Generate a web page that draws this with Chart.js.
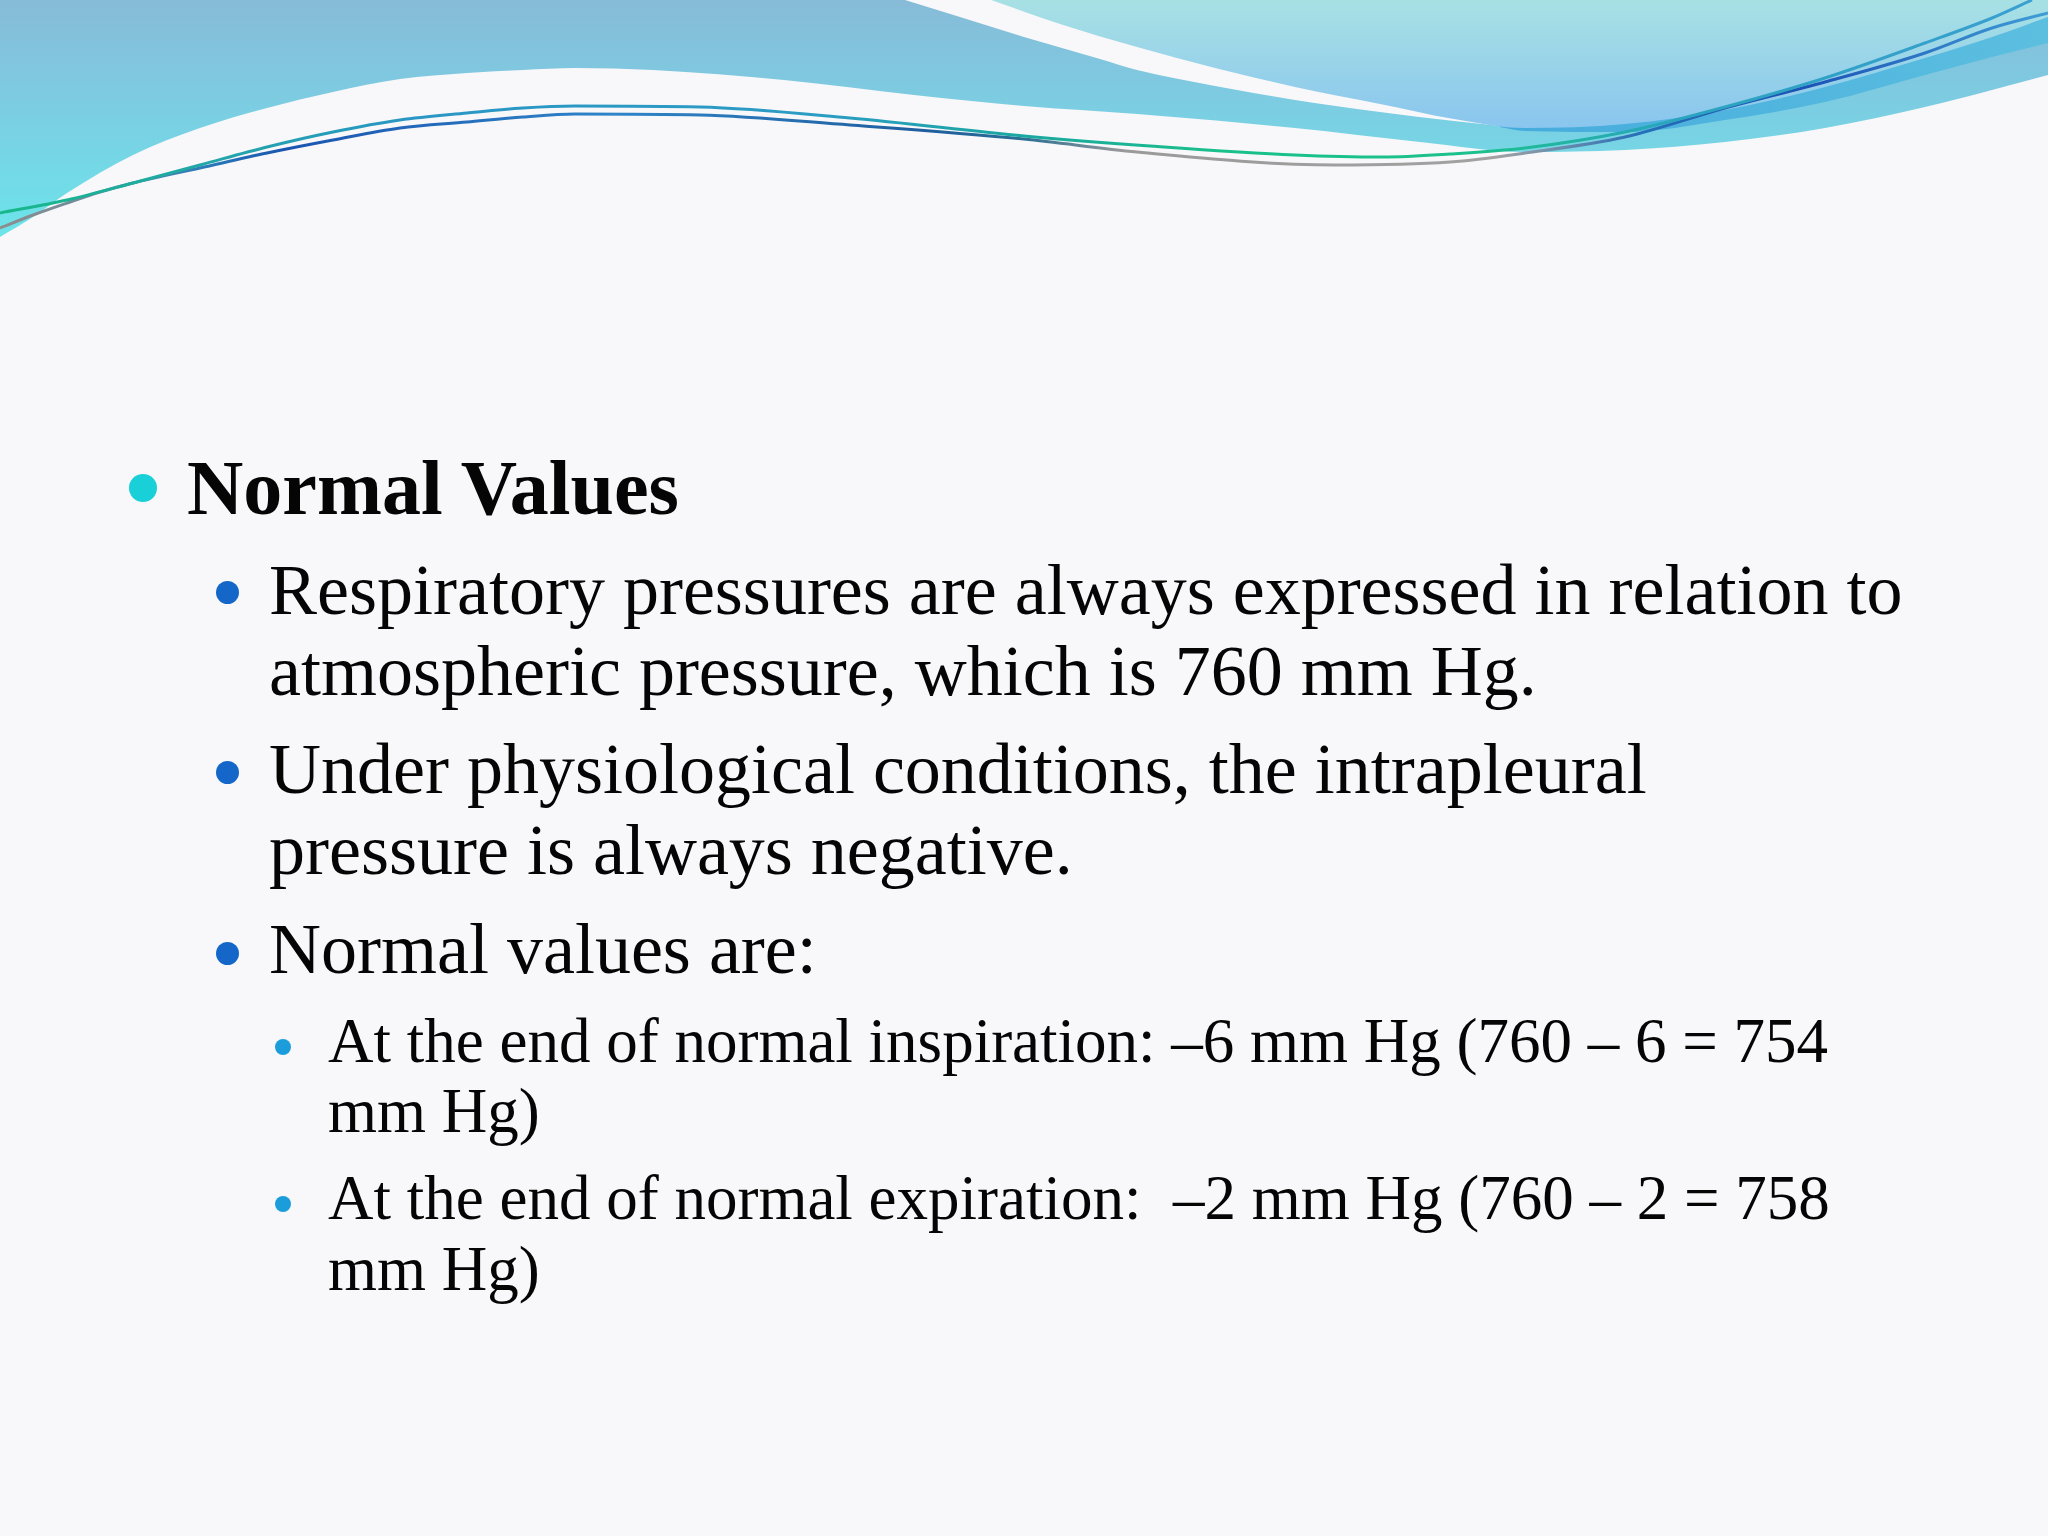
<!DOCTYPE html>
<html>
<head>
<meta charset="utf-8">
<title>Normal Values</title>
<script src="https://cdn.jsdelivr.net/npm/chart.js@4.4.1/dist/chart.umd.min.js"></script>
<style>
  html, body { margin: 0; padding: 0; }
  body {
    width: 2048px; height: 1536px; overflow: hidden; position: relative;
    background: #f8f8fa;
    font-family: "Liberation Serif", "Times New Roman", serif;
    color: #050505;
  }
  #slide { position: absolute; left: 0; top: 0; }
  .line { position: absolute; white-space: pre; line-height: 1; }
  .l1 { font-size: 78px; font-weight: bold; }
  .l2 { font-size: 72px; }
  .l3 { font-size: 63px; }
  .dot { position: absolute; border-radius: 50%; }
</style>
</head>
<body>
<canvas id="slide" width="2048" height="1536"></canvas>
<div id="text"></div>
<script>
// header wave edges, in slide pixels (y counted from the top)
const bandLowerX = [0, 33, 67, 133, 200, 267, 333, 400, 467, 523, 575, 653, 784, 914, 1024, 1137, 1295, 1420, 1525, 1625, 1725, 1825, 1925, 1992, 2048];
const bandLowerY = [237, 217, 193, 155, 128, 108, 92, 79, 73, 70, 68, 70, 80, 95, 106, 114, 128, 142, 152, 150, 142, 128, 107, 90, 75];

const gapX = [905, 960, 1024, 1100, 1137, 1215, 1295, 1380, 1454, 1510];
const gapY = [0, 17, 37, 59, 70, 86, 100, 112, 121, 127];

const ribbonX = [1500, 1525, 1625, 1725, 1825, 1925, 1992, 2048];
const ribbonY = [127, 131, 132, 120, 102, 75, 57, 43];

const crestX = [991, 1060, 1137, 1215, 1295, 1380, 1454, 1525, 1625, 1725, 1825, 1925, 1992, 2048];
const crestY = [0, 24, 47, 68, 87, 104, 119, 128, 124, 110, 87, 58, 37, 17];

const tealLineX = [0, 67, 133, 200, 267, 333, 400, 467, 523, 575, 700, 850, 1024, 1150, 1295, 1383, 1450, 1525, 1625, 1725, 1825, 1925, 1992, 2032];
const tealLineY = [213, 200, 183, 165, 147, 132, 120, 113, 108, 106, 107, 118, 136, 146, 155, 157, 154, 148, 132, 107, 78, 43, 18, 0];

const blueLineX = [0, 33, 67, 100, 133, 200, 267, 333, 400, 467, 523, 575, 700, 850, 1024, 1137, 1335, 1450, 1525, 1625, 1725, 1825, 1925, 1992, 2048];
const blueLineY = [228, 215, 203, 192, 183, 168, 153, 140, 128, 122, 117, 114, 115, 125, 139, 152, 165, 162, 153, 137, 108, 82, 53, 28, 13];

// slide text
const headLines = ["Normal Values"];
const subLines = [
  "Respiratory pressures are always expressed in relation to",
  "atmospheric pressure, which is 760 mm Hg.",
  "Under physiological conditions, the intrapleural",
  "pressure is always negative.",
  "Normal values are:"
];
const itemLines = [
  "At the end of normal inspiration: \u20136 mm Hg (760 \u2013 6 = 754",
  "mm Hg)",
  "At the end of normal expiration:  \u20132 mm Hg (760 \u2013 2 = 758",
  "mm Hg)"
];

// text layout
const layout = {
  head: { cls: "l1", left: 187, size: 78, baselines: [514], dots: [488], dotX: 143, r: 14, color: "#19cfd8" },
  sub: { cls: "l2", left: 269, size: 72, baselines: [614, 695, 793, 874, 973], dots: [592, 772, 953], dotX: 227, r: 11.5, color: "#1467c8" },
  item: { cls: "l3", left: 328, size: 63, baselines: [1063, 1133, 1220, 1291], dots: [1047, 1204], dotX: 283, r: 8, color: "#1c9ddb" }
};

const textBox = document.getElementById("text");
function addBlock(lines, cfg) {
  lines.forEach((t, i) => {
    const d = document.createElement("div");
    d.className = "line " + cfg.cls;
    d.textContent = t;
    d.style.left = cfg.left + "px";
    d.style.top = (cfg.baselines[i] - 0.8375 * cfg.size) + "px";
    textBox.appendChild(d);
  });
  cfg.dots.forEach((y) => {
    const b = document.createElement("div");
    b.className = "dot";
    b.style.width = b.style.height = (cfg.r * 2) + "px";
    b.style.left = (cfg.dotX - cfg.r) + "px";
    b.style.top = (y - cfg.r) + "px";
    b.style.background = cfg.color;
    textBox.appendChild(b);
  });
}
addBlock(headLines, layout.head);
addBlock(subLines, layout.sub);
addBlock(itemLines, layout.item);

// chart
const pts = (xs, ys) => xs.map((x, i) => ({ x: x, y: ys[i] }));

function vGradient(chart, y0, y1, stops) {
  const { ctx, chartArea, scales } = chart;
  if (!chartArea) return stops[0][1];
  const g = ctx.createLinearGradient(0, scales.y.getPixelForValue(y0), 0, scales.y.getPixelForValue(y1));
  stops.forEach(([p, c]) => g.addColorStop(p, c));
  return g;
}
function hGradient(chart, stops) {
  const { ctx, chartArea } = chart;
  if (!chartArea) return stops[0][1];
  const g = ctx.createLinearGradient(chartArea.left, 0, chartArea.right, 0);
  stops.forEach(([p, c]) => g.addColorStop(p, c));
  return g;
}

const noBorder = "rgba(0,0,0,0)";
const toTop = { value: 0 };

new Chart(document.getElementById("slide").getContext("2d"), {
  type: "line",
  data: {
    datasets: [
      {
        label: "band",
        data: pts(bandLowerX, bandLowerY),
        fill: toTop,
        borderColor: noBorder,
        backgroundColor: (c) => vGradient(c.chart, 0, 235, [[0, "#87bbd8"], [0.45, "#7ccde2"], [1, "#6ce4ea"]]),
        order: 6
      },
      {
        label: "gap",
        data: pts(gapX, gapY),
        fill: toTop,
        borderColor: noBorder,
        backgroundColor: "#f8f8fa",
        order: 5
      },
      {
        label: "ribbon",
        data: pts(ribbonX, ribbonY),
        fill: toTop,
        borderColor: noBorder,
        backgroundColor: (c) => hGradient(c.chart, [[0.73, "#45abdc"], [1, "#5cbfe0"]]),
        order: 4
      },
      {
        label: "crest",
        data: pts(crestX, crestY),
        fill: toTop,
        borderColor: noBorder,
        backgroundColor: (c) => vGradient(c.chart, 0, 130, [[0, "#a8e1e4"], [1, "#89c5ee"]]),
        order: 3
      },
      {
        label: "blue line",
        data: pts(blueLineX, blueLineY),
        fill: false,
        borderWidth: 3,
        borderColor: (c) => hGradient(c.chart, [[0, "#8e8e8e"], [0.05, "#6a8aa0"], [0.1, "#2a7ab8"], [0.14, "#1b55b0"], [0.3, "#2f85c8"], [0.45, "#1f5e9f"], [0.5, "#2a6f95"], [0.55, "#9a9a9a"], [0.73, "#a2a2a2"], [0.8, "#2770b8"], [0.88, "#1b52b5"], [1, "#3f9dd6"]]),
        order: 2
      },
      {
        label: "teal line",
        data: pts(tealLineX, tealLineY),
        fill: false,
        borderWidth: 3,
        borderColor: (c) => hGradient(c.chart, [[0, "#16b98a"], [0.1, "#22a6a8"], [0.2, "#2a96c4"], [0.4, "#2b9cc4"], [0.5, "#1aa7a0"], [0.6, "#19c18a"], [0.72, "#1cc08c"], [0.82, "#2aa4bf"], [1, "#3b9fd2"]]),
        order: 1
      }
    ]
  },
  options: {
    responsive: false,
    devicePixelRatio: 1,
    animation: false,
    layout: { padding: 0 },
    elements: {
      point: { radius: 0, hoverRadius: 0 },
      line: { cubicInterpolationMode: "monotone" }
    },
    scales: {
      x: { type: "linear", min: 0, max: 2048, display: false },
      y: { type: "linear", min: 0, max: 1536, reverse: true, display: false }
    },
    plugins: {
      legend: { display: false },
      tooltip: { enabled: false }
    },
    events: []
  }
});
</script>
</body>
</html>
